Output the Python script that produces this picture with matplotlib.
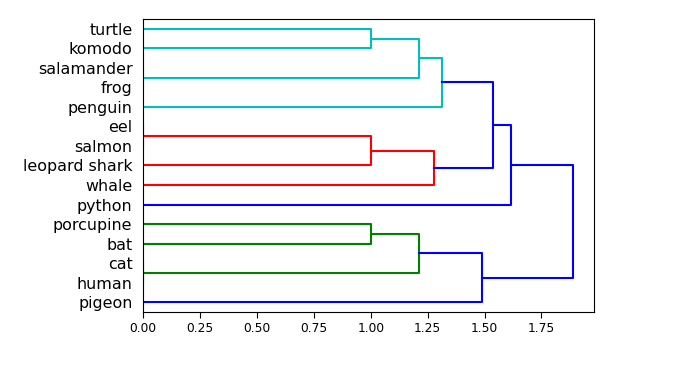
import numpy as np
import matplotlib.pyplot as plt
from matplotlib.ticker import MultipleLocator, FormatStrFormatter

# Blätter (von unten nach oben, wie im Dendrogramm)
names = ['pigeon', 'human', 'cat', 'bat', 'porcupine', 'python', 'whale',
         'leopard shark', 'salmon', 'eel', 'penguin', 'frog', 'salamander',
         'komodo', 'turtle']

# Linkage-Matrix: Cluster a, Cluster b, Abstand (neue Cluster ab Index 15)
link_a = [1, 8, 11, 3, 7, 13, 15, 17, 6, 10, 0, 23, 5, 25]
link_b = [2, 9, 12, 4, 16, 14, 18, 20, 19, 22, 21, 24, 26, 27]
link_dist = [0.0, 0.0, 0.0, 1.0, 1.0, 1.0, 1.21, 1.21, 1.277, 1.311,
             1.491, 1.537, 1.615, 1.887]

n = len(names)
threshold = 0.7 * max(link_dist)
palette = ['g', 'r', 'c', 'm', 'y', 'k']

fig = plt.figure(figsize=(7, 3.67), dpi=100)
ax = fig.add_axes([0.2047, 0.1499, 0.6439, 0.7983])

leaf_pos = []
state = {'leaf': 0, 'col': 0}


# rekursiv zeichnen, gibt (y, Höhe) des Knotens zurück
def draw(node, color):
    if node < n:
        y = 5 + 10 * state['leaf']
        state['leaf'] += 1
        leaf_pos.append(y)
        return y, 0.0
    k = node - n
    h = link_dist[k]
    if color is None and h < threshold:
        color = palette[state['col'] % len(palette)]
        state['col'] += 1
    ya, ha = draw(link_a[k], color)
    yb, hb = draw(link_b[k], color)
    c = color if color is not None else 'b'
    ax.plot([ha, h, h, hb], [ya, ya, yb, yb], color=c, linewidth=1.5)
    return (ya + yb) / 2, h


draw(2 * n - 2, None)

ax.set_ylim(0, 10 * n)
ax.set_xlim(0, max(link_dist) * 1.05)
ax.set_yticks(leaf_pos)
ax.set_yticklabels(names, fontsize=11.4)
ax.tick_params(axis='y', length=0, pad=7.8)
ax.xaxis.set_major_locator(MultipleLocator(0.25))
ax.xaxis.set_major_formatter(FormatStrFormatter('%.2f'))
ax.tick_params(axis='x', labelsize=8.8, length=4, pad=3)

fig.savefig('out.png', dpi=100)
